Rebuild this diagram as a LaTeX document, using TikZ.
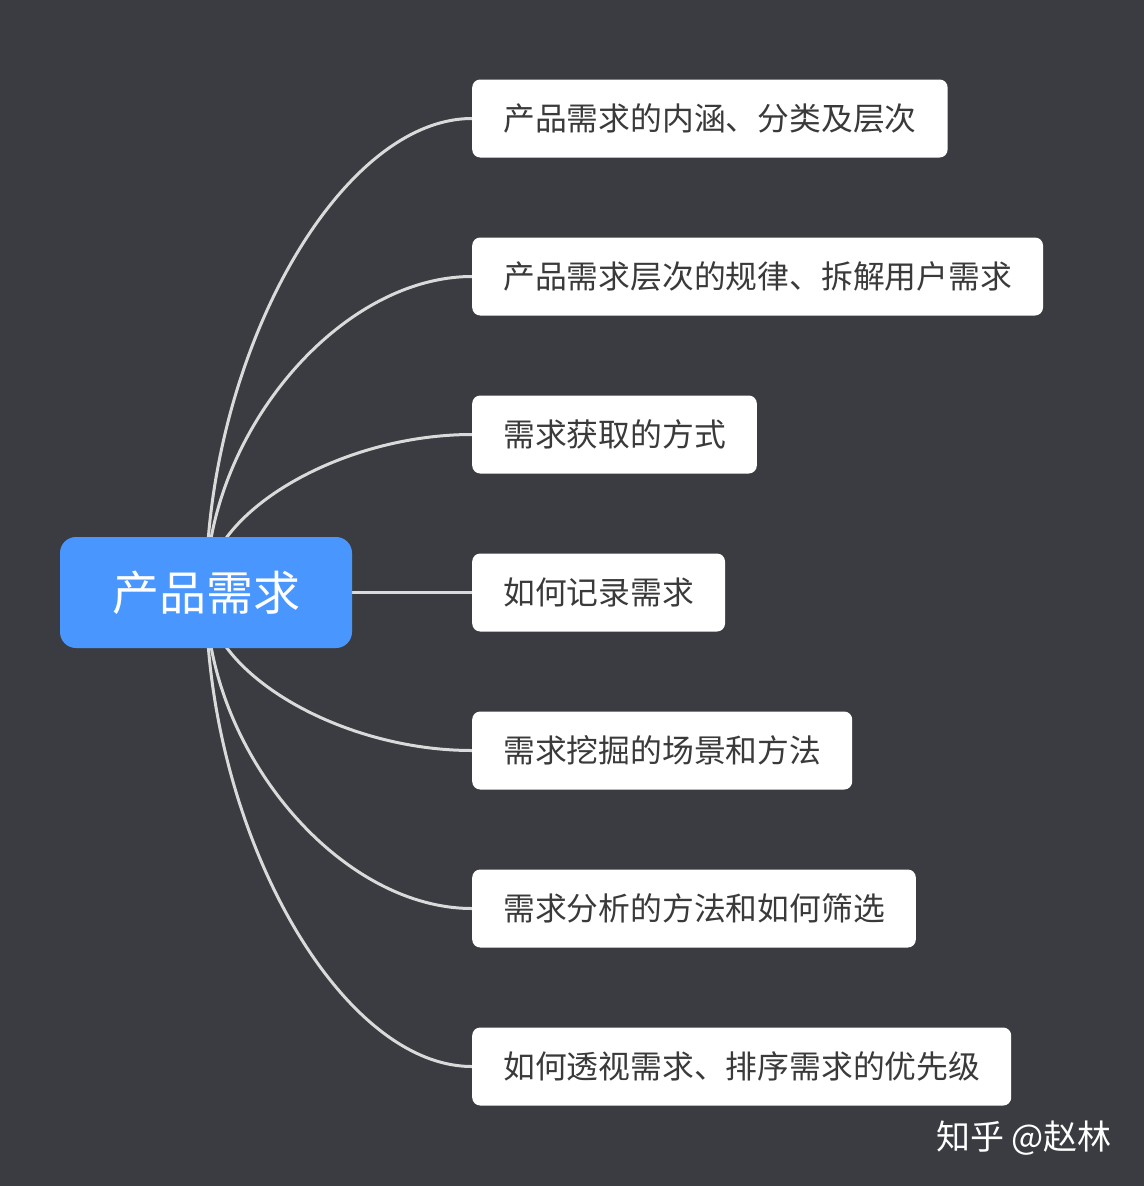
\documentclass[tikz,border=0pt]{standalone}
\usepackage{fontspec}
\setmainfont{Noto Sans CJK SC}
\usetikzlibrary{backgrounds,calc}
\definecolor{bgdark}{HTML}{3A3C41}
\definecolor{rootblue}{HTML}{4A96FF}
\definecolor{linkgray}{HTML}{DADADA}
\definecolor{textgray}{HTML}{3A3A3A}
\tikzset{
  root/.style={fill=rootblue,text=white,rounded corners=16pt,minimum width=292pt,
    minimum height=111pt,font=\fontsize{47}{50}\selectfont},
  topic/.style={fill=white,text=textgray,rounded corners=8pt,anchor=west,inner xsep=31pt,
    minimum height=78pt,font=\fontsize{31.8}{34}\selectfont},
  link/.style={draw=linkgray,line width=3pt}
}
\begin{document}
\begin{tikzpicture}[x=1pt,y=-1pt]
\useasboundingbox (0,0) rectangle (1144,1186);
\node[root] (main) at (206,592.5) {产品需求};
\node[topic] (t1) at (472,118.5) {产品需求的内涵、分类及层次};
\node[topic] (t2) at (472,276.5) {产品需求层次的规律、拆解用户需求};
\node[topic] (t3) at (472,434.5) {需求获取的方式};
\node[topic] (t4) at (472,592.5) {如何记录需求};
\node[topic] (t5) at (472,750.5) {需求挖掘的场景和方法};
\node[topic] (t6) at (472,908.5) {需求分析的方法和如何筛选};
\node[topic] (t7) at (472,1066.5) {如何透视需求、排序需求的优先级};
\node[text=white,font=\fontsize{34}{36}\selectfont] (mark) at (1024,1138) {知乎 @赵林};
\begin{scope}[on background layer]
\fill[bgdark] (0,0) rectangle (1144,1186);
% vertical out of the root, flat into the topic
\foreach \t in {t1,t2,t3,t5,t6,t7} {
  \coordinate (k) at (main.center |- \t.west);
  \draw[link] (main.center) .. controls ($(main.center)!0.5!(k)$) and ($(k)!0.5!(\t.west)$) .. (\t.west);
}
\draw[link] (main.east) -- (t4.west);
\end{scope}
\end{tikzpicture}
\end{document}
